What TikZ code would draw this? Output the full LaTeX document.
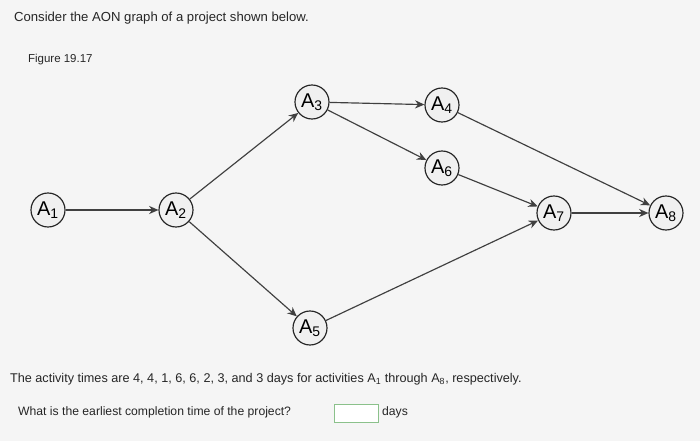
\documentclass[tikz,border=0pt]{standalone}
\usepackage{fontspec}
\setmainfont{Liberation Sans}
\usetikzlibrary{arrows.meta}
\begin{document}
\begin{tikzpicture}[x=0.03cm,y=-0.03cm,
  act/.style={circle,draw=black!85,line width=1pt,fill=black!6,minimum size=34*0.03cm,inner sep=0pt,font=\fontsize{17}{17}\selectfont},
  link/.style={draw=black!75,line width=1pt,-{Stealth[length=8pt,width=7pt]}},
  txt/.style={anchor=west,font=\fontsize{11.2}{13}\selectfont,text=black!85}]
\fill[black!4] (0,0) rectangle (700,441);
\useasboundingbox (0,0) rectangle (700,441);
\node[txt] (t1) at (10,18) {Consider the AON graph of a project shown below.};
\node[txt,font=\fontsize{9.8}{11}\selectfont] (t2) at (24,60) {Figure 19.17};
\node[act] (a1) at (48,210) {A\textsubscript{1}};
\node[act] (a2) at (176,210) {A\textsubscript{2}};
\node[act] (a3) at (312,102) {A\textsubscript{3}};
\node[act] (a4) at (442,105) {A\textsubscript{4}};
\node[act] (a6) at (442,168) {A\textsubscript{6}};
\node[act] (a7) at (554,213) {A\textsubscript{7}};
\node[act] (a8) at (666,213) {A\textsubscript{8}};
\node[act] (a5) at (310,328) {A\textsubscript{5}};
\draw[link] (a1) -- (a2);
\draw[link] (a2) -- (a3);
\draw[link] (a2) -- (a5);
\draw[link] (a3) -- (a4);
\draw[link] (a3) -- (a6);
\draw[link] (a4) -- (a8);
\draw[link] (a6) -- (a7);
\draw[link] (a5) -- (a7);
\draw[link] (a7) -- (a8);
\node[txt,font=\fontsize{10.8}{13}\selectfont] (t3) at (6,379) {The activity times are 4, 4, 1, 6, 6, 2, 3, and 3 days for activities A\textsubscript{1} through A\textsubscript{8}, respectively.};
\node[txt,font=\fontsize{10.4}{12}\selectfont] (t4) at (14,412) {What is the earliest completion time of the project?};
\node[draw=green!30!gray!70,fill=white,line width=0.6pt,minimum width=44*0.03cm,minimum height=18*0.03cm,inner sep=0pt] (box) at (356,413) {};
\node[txt,font=\fontsize{10.4}{12}\selectfont] (t5) at (378,412) {days};
\end{tikzpicture}
\end{document}
